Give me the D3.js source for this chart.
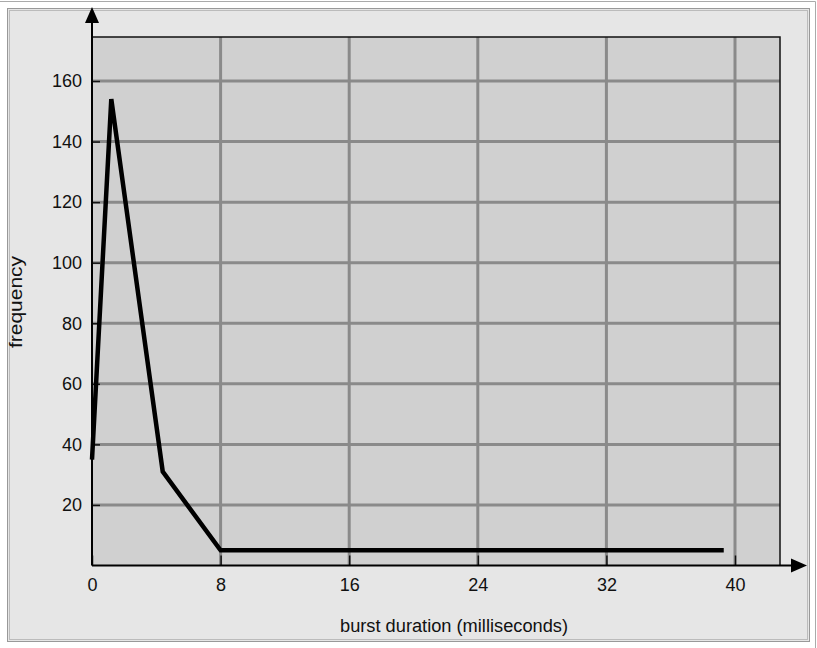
<!DOCTYPE html>
<html><head><meta charset="utf-8">
<script src="https://cdn.jsdelivr.net/npm/d3@7"></script>
<style>html,body{margin:0;padding:0;background:#fff;}svg{display:block;font-family:"Liberation Sans",Arial,sans-serif;}</style>
</head><body>
<svg id="c" width="817" height="648"></svg>
<script>
const burstX = [0, 1.2, 4.4, 8, 39.3];
const freqY = [35, 154, 31, 5, 5];
const xTicks = [0, 8, 16, 24, 32, 40];
const yTicks = [20, 40, 60, 80, 100, 120, 140, 160];
const xLabel = "burst duration (milliseconds)";
const yLabel = "frequency";

const svg = d3.select("#c");
// frame
svg.append("path").attr("d","M0,1.5H815.5V648").attr("fill","none").attr("stroke","#aaa").attr("stroke-width",1);
svg.append("rect").attr("x",7.5).attr("y",8.5).attr("width",802).attr("height",633).attr("fill","#e6e6e6").attr("stroke","#999").attr("stroke-width",1);
svg.append("rect").attr("x",9.5).attr("y",10.5).attr("width",798).attr("height",629).attr("fill","none").attr("stroke","#bbb").attr("stroke-width",1);

const x = d3.scaleLinear().domain([0, 40]).range([92, 735]);
const y = d3.scaleLinear().domain([0, 160]).range([565.5, 81]);
const x0 = x(0), x1 = 780, y0 = y(0), yTop = 37;

svg.append("rect").attr("x",x0).attr("y",yTop).attr("width",x1-x0).attr("height",y0-yTop).attr("fill","#d0d0d0");

// grid
svg.append("g").selectAll("line").data(yTicks).join("line")
  .attr("x1",x0).attr("x2",x1).attr("y1",d=>y(d)).attr("y2",d=>y(d))
  .attr("stroke","#8a8a8a").attr("stroke-width",3);
svg.append("g").selectAll("line").data(xTicks.filter(d=>d>0)).join("line")
  .attr("x1",d=>x(d)).attr("x2",d=>x(d)).attr("y1",yTop).attr("y2",y0)
  .attr("stroke","#8a8a8a").attr("stroke-width",3);

// border top/right
svg.append("path").attr("d",`M${x0},${yTop}H${x1}V${y0}`).attr("fill","none").attr("stroke","#111").attr("stroke-width",1.5);

const FS = 18;
// axes with D3
const xAxis = d3.axisBottom(x).tickValues(xTicks).tickSize(-10).tickPadding(13).tickFormat(d3.format("d"));
const gx = svg.append("g").attr("transform",`translate(0,${y0})`).call(xAxis);
gx.select(".domain").remove();
gx.selectAll(".tick line").attr("stroke","#111").attr("stroke-width",1.5);
gx.selectAll("text").attr("font-size",FS).attr("fill","#111").attr("font-family","Liberation Sans, Arial, sans-serif");

const yAxis = d3.axisLeft(y).tickValues(yTicks).tickSize(-8).tickPadding(10).tickFormat(d3.format("d"));
const gy = svg.append("g").attr("transform",`translate(${x0},0)`).call(yAxis);
gy.select(".domain").remove();
gy.selectAll(".tick line").attr("stroke","#111").attr("stroke-width",1.5);
gy.selectAll("text").attr("font-size",FS).attr("fill","#111").attr("font-family","Liberation Sans, Arial, sans-serif");

// axis lines with arrows
svg.append("line").attr("x1",x0).attr("x2",793).attr("y1",y0).attr("y2",y0).attr("stroke","#000").attr("stroke-width",2);
svg.append("path").attr("d",`M791,${y0-7}L807,${y0}L791,${y0+7}Z`).attr("fill","#000");
svg.append("line").attr("x1",x0).attr("x2",x0).attr("y1",y0).attr("y2",22).attr("stroke","#000").attr("stroke-width",2);
svg.append("path").attr("d",`M${x0-7},23L${x0},7L${x0+7},23Z`).attr("fill","#000");

// data line
const pts = burstX.map((d,i)=>[d, freqY[i]]);
svg.append("path").datum(pts)
  .attr("d", d3.line().x(d=>x(d[0])).y(d=>y(d[1])))
  .attr("fill","none").attr("stroke","#000").attr("stroke-width",4.5).attr("stroke-linejoin","miter");

// labels
svg.append("text").attr("x",454).attr("y",632).attr("text-anchor","middle").attr("font-size",FS).attr("fill","#111")
  .attr("textLength",228).attr("lengthAdjust","spacingAndGlyphs").text(xLabel);
svg.append("text").attr("transform","translate(22,302) rotate(-90)").attr("text-anchor","middle").attr("font-size",FS).attr("fill","#111")
  .attr("textLength",92).attr("lengthAdjust","spacingAndGlyphs").text(yLabel);
</script>
</body></html>
